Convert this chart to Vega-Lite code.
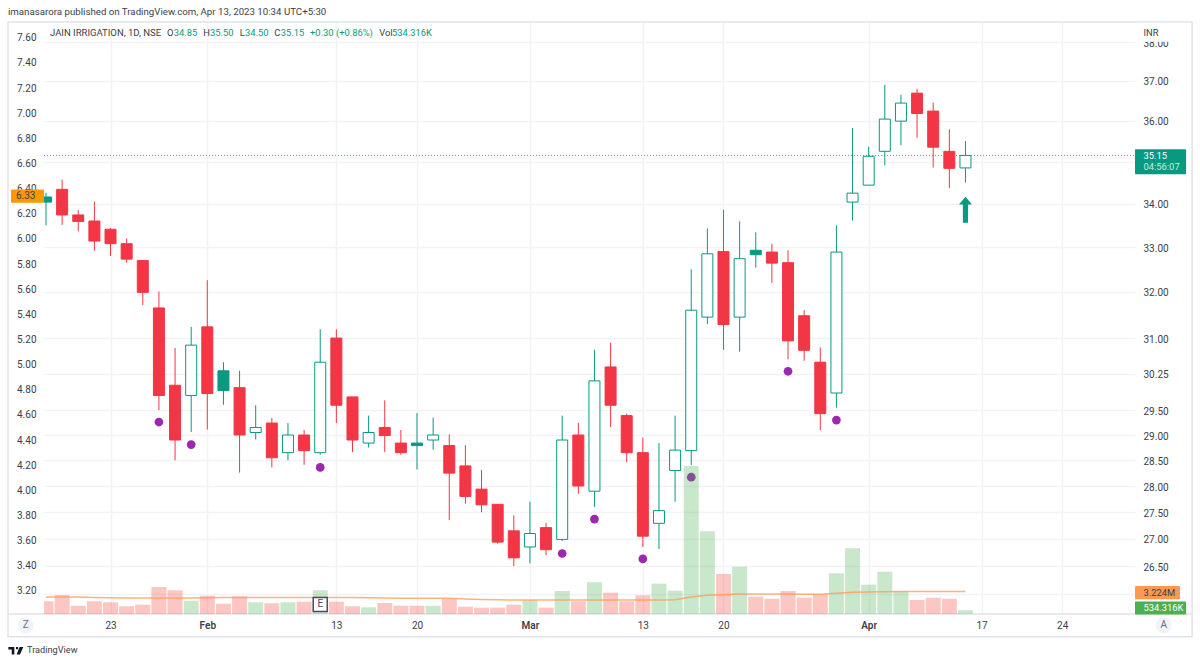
{"$schema":"https://vega.github.io/schema/vega-lite/v6.json","width":1091,"height":592,"autosize":{"type":"none"},"padding":{"left":44,"top":22,"right":65,"bottom":51},"background":"white","config":{"view":{"stroke":null},"font":"Roboto"},
"datasets":{
"candles":[
{"date":"2023-01-17","bar":0,"kind":"up","open":34.16,"high":34.26,"low":33.50,"close":34.04,"volume":1.81,"ma":2.42},
{"date":"2023-01-18","bar":1,"kind":"down","open":34.34,"high":34.57,"low":33.51,"close":33.74,"volume":2.71,"ma":2.42},
{"date":"2023-01-19","bar":2,"kind":"down","open":33.74,"high":33.86,"low":33.36,"close":33.59,"volume":1.18,"ma":2.42},
{"date":"2023-01-20","bar":3,"kind":"down","open":33.60,"high":34.05,"low":32.92,"close":33.14,"volume":1.81,"ma":2.35},
{"date":"2023-01-23","bar":4,"kind":"down","open":33.41,"high":33.44,"low":32.80,"close":33.08,"volume":1.67,"ma":2.32},
{"date":"2023-01-24","bar":5,"kind":"down","open":33.08,"high":33.20,"low":32.65,"close":32.73,"volume":1.10,"ma":2.28},
{"date":"2023-01-25","bar":6,"kind":"down","open":32.70,"high":32.70,"low":31.71,"close":31.99,"volume":1.33,"ma":2.28},
{"date":"2023-01-27","bar":7,"kind":"down","open":31.65,"high":32.01,"low":29.50,"close":29.80,"volume":3.85,"ma":2.28,"signal":29.26},
{"date":"2023-01-30","bar":8,"kind":"down","open":30.01,"high":30.79,"low":28.50,"close":28.90,"volume":3.38,"ma":2.28},
{"date":"2023-01-31","bar":9,"kind":"hollow","open":29.80,"high":31.24,"low":29.06,"close":30.85,"volume":1.90,"ma":2.28,"signal":28.81},
{"date":"2023-02-01","bar":10,"kind":"down","open":31.24,"high":32.26,"low":29.11,"close":29.84,"volume":2.61,"ma":2.32},
{"date":"2023-02-02","bar":11,"kind":"up","open":30.31,"high":30.49,"low":29.61,"close":29.90,"volume":1.47,"ma":2.35},
{"date":"2023-02-03","bar":12,"kind":"down","open":29.96,"high":30.31,"low":28.26,"close":29.00,"volume":2.52,"ma":2.35},
{"date":"2023-02-06","bar":13,"kind":"hollow","open":29.05,"high":29.60,"low":28.91,"close":29.15,"volume":1.67,"ma":2.35},
{"date":"2023-02-07","bar":14,"kind":"down","open":29.24,"high":29.34,"low":28.36,"close":28.55,"volume":1.53,"ma":2.35},
{"date":"2023-02-08","bar":15,"kind":"hollow","open":28.65,"high":29.24,"low":28.50,"close":29.00,"volume":1.67,"ma":2.35},
{"date":"2023-02-09","bar":16,"kind":"down","open":29.00,"high":29.10,"low":28.41,"close":28.69,"volume":1.75,"ma":2.35},
{"date":"2023-02-10","bar":17,"kind":"hollow","open":28.65,"high":31.19,"low":28.61,"close":30.49,"volume":3.38,"ma":2.35,"signal":28.36},
{"date":"2023-02-13","bar":18,"kind":"down","open":31.00,"high":31.19,"low":29.24,"close":29.60,"volume":1.75,"ma":2.35},
{"date":"2023-02-14","bar":19,"kind":"down","open":29.77,"high":29.77,"low":28.66,"close":28.90,"volume":1.10,"ma":2.35},
{"date":"2023-02-15","bar":20,"kind":"hollow","open":28.84,"high":29.39,"low":28.75,"close":29.05,"volume":0.96,"ma":2.32},
{"date":"2023-02-16","bar":21,"kind":"down","open":29.15,"high":29.70,"low":28.66,"close":28.99,"volume":1.57,"ma":2.28},
{"date":"2023-02-17","bar":22,"kind":"down","open":28.84,"high":29.10,"low":28.61,"close":28.65,"volume":1.18,"ma":2.24},
{"date":"2023-02-20","bar":23,"kind":"up","open":28.84,"high":29.44,"low":28.32,"close":28.79,"volume":1.18,"ma":2.24},
{"date":"2023-02-21","bar":24,"kind":"hollow","open":28.90,"high":29.35,"low":28.71,"close":29.00,"volume":1.18,"ma":2.24},
{"date":"2023-02-22","bar":25,"kind":"down","open":28.79,"high":29.01,"low":27.35,"close":28.25,"volume":2.14,"ma":2.24},
{"date":"2023-02-23","bar":26,"kind":"down","open":28.39,"high":28.80,"low":27.66,"close":27.80,"volume":1.04,"ma":2.14},
{"date":"2023-02-24","bar":27,"kind":"down","open":27.94,"high":28.31,"low":27.50,"close":27.64,"volume":0.90,"ma":2.07},
{"date":"2023-02-27","bar":28,"kind":"down","open":27.65,"high":27.65,"low":26.91,"close":26.94,"volume":0.90,"ma":2.02},
{"date":"2023-02-28","bar":29,"kind":"down","open":27.15,"high":27.44,"low":26.50,"close":26.65,"volume":1.33,"ma":2.00},
{"date":"2023-03-01","bar":30,"kind":"hollow","open":26.85,"high":27.70,"low":26.55,"close":27.10,"volume":1.95,"ma":2.00},
{"date":"2023-03-02","bar":31,"kind":"down","open":27.21,"high":27.30,"low":26.70,"close":26.80,"volume":0.90,"ma":2.00},
{"date":"2023-03-03","bar":32,"kind":"hollow","open":26.99,"high":29.39,"low":26.96,"close":28.90,"volume":3.28,"ma":2.00,"signal":26.73},
{"date":"2023-03-06","bar":33,"kind":"down","open":29.00,"high":29.24,"low":27.85,"close":28.00,"volume":1.81,"ma":2.00},
{"date":"2023-03-08","bar":34,"kind":"hollow","open":27.90,"high":30.75,"low":27.60,"close":30.10,"volume":4.52,"ma":2.00,"signal":27.37},
{"date":"2023-03-09","bar":35,"kind":"down","open":30.39,"high":30.90,"low":29.16,"close":29.60,"volume":3.04,"ma":2.00},
{"date":"2023-03-10","bar":36,"kind":"down","open":29.39,"high":29.43,"low":28.46,"close":28.65,"volume":1.81,"ma":2.00},
{"date":"2023-03-13","bar":37,"kind":"down","open":28.65,"high":28.95,"low":26.85,"close":27.05,"volume":2.67,"ma":2.00,"signal":26.63},
{"date":"2023-03-14","bar":38,"kind":"hollow","open":27.29,"high":28.84,"low":26.81,"close":27.53,"volume":4.32,"ma":2.00},
{"date":"2023-03-15","bar":39,"kind":"hollow","open":28.30,"high":29.39,"low":27.70,"close":28.70,"volume":3.32,"ma":2.02},
{"date":"2023-03-16","bar":40,"kind":"hollow","open":28.69,"high":32.50,"low":28.41,"close":31.60,"volume":21.10,"ma":2.42,"signal":28.17},
{"date":"2023-03-17","bar":41,"kind":"hollow","open":31.45,"high":33.43,"low":31.30,"close":32.85,"volume":11.79,"ma":2.67},
{"date":"2023-03-20","bar":42,"kind":"down","open":32.90,"high":33.86,"low":30.75,"close":31.29,"volume":5.70,"ma":2.75},
{"date":"2023-03-21","bar":43,"kind":"hollow","open":31.45,"high":33.59,"low":30.71,"close":32.74,"volume":6.75,"ma":2.85},
{"date":"2023-03-22","bar":44,"kind":"up","open":32.93,"high":33.34,"low":32.54,"close":32.83,"volume":2.47,"ma":2.85},
{"date":"2023-03-23","bar":45,"kind":"down","open":32.89,"high":33.08,"low":32.20,"close":32.64,"volume":2.18,"ma":2.85},
{"date":"2023-03-24","bar":46,"kind":"down","open":32.65,"high":32.93,"low":30.55,"close":30.94,"volume":3.28,"ma":2.85,"signal":30.30},
{"date":"2023-03-27","bar":47,"kind":"down","open":31.48,"high":31.60,"low":30.52,"close":30.74,"volume":2.35,"ma":2.81},
{"date":"2023-03-28","bar":48,"kind":"down","open":30.49,"high":30.80,"low":29.10,"close":29.43,"volume":2.81,"ma":2.81},
{"date":"2023-03-29","bar":49,"kind":"hollow","open":29.85,"high":33.50,"low":29.55,"close":32.89,"volume":5.80,"ma":2.95,"signal":29.30},
{"date":"2023-03-31","bar":50,"kind":"hollow","open":34.04,"high":35.82,"low":33.61,"close":34.25,"volume":9.37,"ma":3.09},
{"date":"2023-04-03","bar":51,"kind":"hollow","open":34.44,"high":35.36,"low":34.44,"close":35.13,"volume":4.18,"ma":3.14},
{"date":"2023-04-05","bar":52,"kind":"hollow","open":35.25,"high":36.90,"low":34.91,"close":36.04,"volume":6.03,"ma":3.18},
{"date":"2023-04-06","bar":53,"kind":"hollow","open":35.99,"high":36.65,"low":35.40,"close":36.44,"volume":3.24,"ma":3.21},
{"date":"2023-04-10","bar":54,"kind":"down","open":36.69,"high":36.80,"low":35.58,"close":36.18,"volume":2.00,"ma":3.21},
{"date":"2023-04-11","bar":55,"kind":"down","open":36.24,"high":36.45,"low":34.86,"close":35.35,"volume":2.32,"ma":3.21},
{"date":"2023-04-12","bar":56,"kind":"down","open":35.25,"high":35.79,"low":34.37,"close":34.84,"volume":2.18,"ma":3.21},
{"date":"2023-04-13","bar":57,"kind":"hollow","open":34.85,"high":35.50,"low":34.50,"close":35.15,"volume":0.534,"ma":3.224,"arrow":33.86}
],
"boxes":[
{"part":"cover","x0":67.57,"x1":70.92,"p0":38.01,"p1":38.51},
{"part":"last","x0":67.51,"x1":70.68,"p0":34.70,"p1":35.30},
{"part":"ma","x0":67.51,"x1":70.30,"p0":25.90,"p1":26.14},
{"part":"vol","x0":67.51,"x1":70.68,"p0":25.63,"p1":25.86}
],
"labels":[
{"text":"imanasarora published on TradingView.com, Apr 13, 2023 10:34 UTC+5:30","bar":-2.356,"price":38.80,"tone":"dark","role":"byline"},
{"text":"JAIN IRRIGATION, 1D, NSE","bar":0.248,"price":38.23,"tone":"dark","role":"name"},
{"text":"O","bar":7.50,"price":38.23,"tone":"dark","role":"legend"},
{"text":"34.85","bar":7.92,"price":38.23,"tone":"teal","role":"legend"},
{"text":"H","bar":9.75,"price":38.23,"tone":"dark","role":"legend"},
{"text":"35.50","bar":10.17,"price":38.23,"tone":"teal","role":"legend"},
{"text":"L","bar":12.01,"price":38.23,"tone":"dark","role":"legend"},
{"text":"34.50","bar":12.34,"price":38.23,"tone":"teal","role":"legend"},
{"text":"C","bar":14.15,"price":38.23,"tone":"dark","role":"legend"},
{"text":"35.15","bar":14.55,"price":38.23,"tone":"teal","role":"legend"},
{"text":"+0.30 (+0.86%)","bar":16.37,"price":38.23,"tone":"teal","role":"legend"},
{"text":"Vol","bar":20.66,"price":38.23,"tone":"dark","role":"legend"},
{"text":"534.316K","bar":21.45,"price":38.23,"tone":"teal","role":"legend"},
{"text":"INR","bar":68.04,"price":38.25,"tone":"dark","role":"legend"},
{"text":"35.15","bar":68.04,"price":35.13,"tone":"white","role":"legend"},
{"text":"04:56:07","bar":68.04,"price":34.86,"tone":"pale","role":"legend"},
{"text":"3.224M","bar":68.04,"price":26.02,"tone":"dark","role":"legend"},
{"text":"534.316K","bar":68.04,"price":25.74,"tone":"white","role":"legend"},
{"text":"TradingView","bar":-1.178,"price":25.01,"tone":"dark","role":"brand"}
],
"badges":[
{"text":"Z","bar":-1.259,"price":25.44},
{"text":"A","bar":69.29,"price":25.44}
],
"earnings":[{"text":"E","bar":17,"price":25.81}],
"frame":[{"x0":-2.356,"x1":71.05,"p0":25.24,"p1":38.53}],
"divider":[{"x0":-2.356,"x1":71.05,"price":25.64}],
"lastline":[{"x0":-0.124,"x1":67.51,"price":35.15}],
"logo":[{"bar":-1.87,"price":25.0}],
"overlay":[{"x0":-2.17,"x1":-0.124,"lo":6.28,"hi":6.385,"value":6.33,"bar":-1.86,"text":"6.33"}]
},
"resolve":{"scale":{"y":"independent"}},
"layer":[
{"layer":[
{"data":{"name":"frame"},"mark":{"type":"rect","fill":"transparent","stroke":"#e0e3eb","strokeWidth":1.5},
 "encoding":{"x":{"field":"x0","type":"quantitative","title":null,"scale":{"domain":[-0.124,67.51],"nice":false,"zero":false,"padding":0},"axis":{"title":null,"values":[4,10,18,23,30,37,42,51,58,63],"labelExpr":"['23','Feb','13','20','Mar','13','20','Apr','17','24'][indexof([4,10,18,23,30,37,42,51,58,63],datum.value)]","orient":"bottom","grid":true,"gridColor":"#f1f3f7","gridWidth":1.5,"ticks":false,"domain":false,"labelPadding":6,"labelFontSize":10,"labelColor":"#3a3e4a","labelFontWeight":{"condition":{"test":"datum.value==10||datum.value==30||datum.value==51","value":600},"value":400},"labelOverlap":false,"labelBound":false,"labelFlush":false}},"x2":{"field":"x1"},
 "y":{"field":"p0","type":"quantitative","title":null,"scale":{"type":"log","domain":[25.64,38.53],"nice":false},"axis":{"title":null,"orient":"right","values":[26,26.5,27,27.5,28,28.5,29,29.5,30.25,31,32,33,34,35,36,37,38],"labelExpr":"datum.value==26||datum.value==35?'':format(datum.value,'.2f')","grid":true,"gridColor":"#f1f3f7","gridWidth":1.5,"ticks":false,"domain":false,"labelPadding":8,"labelOffset":1,"labelFontSize":10,"labelColor":"#3a3e4a","labelOverlap":false,"labelBound":false,"labelFlush":false}},"y2":{"field":"p1"}}},
{"data":{"name":"divider"},"mark":{"type":"rule","stroke":"#e0e3eb","strokeWidth":1.5},
 "encoding":{"x":{"field":"x0","type":"quantitative","title":null},"x2":{"field":"x1"},"y":{"field":"price","type":"quantitative","title":null}}},
{"data":{"name":"lastline"},"mark":{"type":"rule","stroke":"#2bbfa8","strokeWidth":1,"strokeDash":[1,2]},
 "encoding":{"x":{"field":"x0","type":"quantitative","title":null},"x2":{"field":"x1"},"y":{"field":"price","type":"quantitative","title":null}}},
{"data":{"name":"candles"},"transform":[{"filter":"isValid(datum.signal)"}],"mark":{"type":"point","shape":"circle","filled":true,"size":76,"color":"#9c27b0","opacity":1},
 "encoding":{"x":{"field":"bar","type":"quantitative","title":null},
 "y":{"field":"signal","type":"quantitative","title":null}}}
]},
{"data":{"name":"candles"},"layer":[
{"mark":{"type":"bar","orient":"vertical","size":15,"opacity":0.3,"clip":true},
 "encoding":{"x":{"field":"bar","type":"quantitative","title":null},
 "y":{"field":"volume","type":"quantitative","stack":null,"scale":{"domain":[0,84.42],"nice":false},"axis":null},
 "color":{"condition":{"test":"datum.close>=datum.open","value":"#4caf50"},"value":"#f44336"}}},
{"mark":{"type":"line","stroke":"#ff9850","strokeWidth":1.5,"opacity":0.75,"clip":true},
 "encoding":{"x":{"field":"bar","type":"quantitative","title":null},"y":{"field":"ma","type":"quantitative","axis":null}}}
]},
{"resolve":{"scale":{"fill":"independent"}},"layer":[
{"data":{"name":"candles"},"mark":{"type":"rule","strokeWidth":1,"clip":true},
 "encoding":{"x":{"field":"bar","type":"quantitative","title":null},
 "y":{"field":"high","type":"quantitative","scale":{"type":"log","domain":[25.64,38.53],"nice":false},"axis":null},"y2":{"field":"low"},
 "stroke":{"field":"kind","type":"nominal","scale":{"domain":["hollow","up","down"],"range":["#089981","#089981","#f23645"]},"legend":null}}},
{"data":{"name":"candles"},"mark":{"type":"bar","orient":"vertical","size":11,"strokeWidth":1,"clip":true},
 "encoding":{"x":{"field":"bar","type":"quantitative","title":null},
 "y":{"field":"open","type":"quantitative","stack":null,"axis":null},"y2":{"field":"close"},
 "fill":{"field":"kind","type":"nominal","scale":{"domain":["hollow","up","down"],"range":["#ffffff","#089981","#f23645"]},"legend":null},
 "stroke":{"field":"kind","type":"nominal","legend":null}}},
{"data":{"name":"candles"},"transform":[{"filter":"isValid(datum.arrow)"}],"mark":{"type":"point","filled":true,"opacity":1,"size":676,"color":"#089981","shape":"M0,-1L0.5,-0.4L0.2,-0.4L0.2,1L-0.2,1L-0.2,-0.4L-0.5,-0.4Z"},
 "encoding":{"x":{"field":"bar","type":"quantitative","title":null},"y":{"field":"arrow","type":"quantitative","axis":null}}},
{"data":{"name":"boxes"},"mark":{"type":"rect","cornerRadius":1},
 "encoding":{"x":{"field":"x0","type":"quantitative","title":null},"x2":{"field":"x1"},"y":{"field":"p0","type":"quantitative","axis":null},"y2":{"field":"p1"},
 "fill":{"field":"part","type":"nominal","scale":{"domain":["cover","last","ma","vol"],"range":["#ffffff","#089981","#ff9850","#4caf50"]},"legend":null}}},
{"data":{"name":"earnings"},"mark":{"type":"point","shape":"square","filled":true,"fill":"#ffffff","opacity":1,"stroke":"#4a4e5a","strokeWidth":1.5,"size":196},
 "encoding":{"x":{"field":"bar","type":"quantitative","title":null},"y":{"field":"price","type":"quantitative","axis":null}}},
{"data":{"name":"badges"},"mark":{"type":"point","shape":"circle","filled":true,"color":"#f0f3fa","opacity":1,"size":256},
 "encoding":{"x":{"field":"bar","type":"quantitative","title":null},"y":{"field":"price","type":"quantitative","axis":null}}},
{"data":{"name":"badges"},"mark":{"type":"text","align":"center","baseline":"middle","fontSize":10,"color":"#6a6d78"},
 "encoding":{"x":{"field":"bar","type":"quantitative","title":null},"y":{"field":"price","type":"quantitative","axis":null},"text":{"field":"text"}}},
{"data":{"name":"earnings"},"mark":{"type":"text","align":"center","baseline":"middle","fontSize":10,"color":"#4a4e5a"},
 "encoding":{"x":{"field":"bar","type":"quantitative","title":null},"y":{"field":"price","type":"quantitative","axis":null},"text":{"field":"text"}}},
{"data":{"name":"logo"},"mark":{"type":"point","filled":true,"opacity":1,"color":"#131722","size":225,"shape":"M-1,-0.5L-0.2,-0.5L-0.2,0.5L-0.55,0.5L-0.55,-0.15L-1,-0.15ZM0.02,-0.5L0.3,-0.5L0.3,-0.2L0.02,-0.2ZM0.5,-0.5L1,-0.5L0.55,0.5L0.1,0.5Z"},
 "encoding":{"x":{"field":"bar","type":"quantitative","title":null},"y":{"field":"price","type":"quantitative","axis":null}}},
{"data":{"name":"labels"},"mark":{"type":"text","align":"left","baseline":"middle"},
 "encoding":{"x":{"field":"bar","type":"quantitative","title":null},"y":{"field":"price","type":"quantitative","axis":null},"text":{"field":"text"},
 "size":{"field":"role","type":"nominal","scale":{"domain":["byline","name","legend","brand"],"range":[9.7,9.2,9.7,12.5]},"legend":null},
 "color":{"field":"tone","type":"nominal","scale":{"domain":["dark","teal","white","pale"],"range":["#3a3e4a","#089981","#ffffff","#c9ebe4"]},"legend":null}}}
]},
{"data":{"name":"overlay"},"layer":[
{"mark":{"type":"rect","fill":"#ff9800","cornerRadius":1},
 "encoding":{"x":{"field":"x0","type":"quantitative","title":null},"x2":{"field":"x1"},
 "y":{"field":"lo","type":"quantitative","title":null,"scale":{"domain":[3.009,7.717],"nice":false,"zero":false},"axis":{"title":null,"orient":"left","tickCount":40,"values":[3.2,3.4,3.6,3.8,4.0,4.2,4.4,4.6,4.8,5.0,5.2,5.4,5.6,5.8,6.0,6.2,6.4,6.6,6.8,7.0,7.2,7.4,7.6],"labelExpr":"format(datum.value,'.2f')","grid":false,"ticks":false,"domain":false,"labelPadding":8,"labelOffset":1,"labelFontSize":10,"labelColor":"#3a3e4a","labelOverlap":false,"labelBound":false,"labelFlush":false,"labelSeparation":0}},"y2":{"field":"hi"}}},
{"mark":{"type":"text","align":"left","baseline":"middle","fontSize":10,"color":"#3a3e4a"},
 "encoding":{"x":{"field":"bar","type":"quantitative","title":null},"y":{"field":"value","type":"quantitative","title":null},"text":{"field":"text"}}}
]}
]}
